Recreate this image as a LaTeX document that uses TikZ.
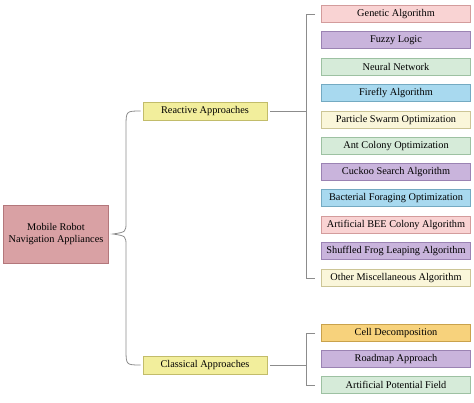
\documentclass[tikz,border=0pt]{standalone}
\usepackage{fontspec}
\setmainfont{Liberation Serif}
\usetikzlibrary{positioning}

\definecolor{rootfill}{HTML}{D9A1A4}
\definecolor{rootline}{HTML}{B3777B}
\definecolor{yelfill}{HTML}{F2EE9C}
\definecolor{yelline}{HTML}{C2BC6A}
\definecolor{pinkfill}{HTML}{F9D3D3}
\definecolor{pinkline}{HTML}{D39C9C}
\definecolor{purpfill}{HTML}{C9B4DC}
\definecolor{purpline}{HTML}{9B83B3}
\definecolor{grnfill}{HTML}{D6EBD9}
\definecolor{grnline}{HTML}{9DC1A2}
\definecolor{bluefill}{HTML}{A8D9EF}
\definecolor{blueline}{HTML}{74AAC2}
\definecolor{crmfill}{HTML}{FAF6DA}
\definecolor{crmline}{HTML}{CCC596}
\definecolor{orgfill}{HTML}{F7D27C}
\definecolor{orgline}{HTML}{C9A24C}
\definecolor{linkgray}{HTML}{8C8C8C}

\tikzset{
  box/.style={draw, line width=0.6pt, align=center, inner sep=0pt, font=\fontsize{10.3}{12}\selectfont},
  leaf/.style={box, minimum width=149pt, minimum height=17pt},
  approach/.style={box, fill=yelfill, draw=yelline, minimum width=124pt, minimum height=18pt},
  pinkbox/.style={fill=pinkfill, draw=pinkline},
  purpbox/.style={fill=purpfill, draw=purpline},
  grnbox/.style={fill=grnfill, draw=grnline},
  bluebox/.style={fill=bluefill, draw=blueline},
  crmbox/.style={fill=crmfill, draw=crmline},
  orgbox/.style={fill=orgfill, draw=orgline},
  link/.style={draw=linkgray, line width=0.8pt},
}

\begin{document}
\begin{tikzpicture}[x=1pt, y=-1pt]
        \useasboundingbox (0,0) rectangle (474,402);

        \node[box, fill=rootfill, draw=rootline, minimum width=105pt, minimum height=58pt] at (56, 234)(root){Mobile Robot\\Navigation Appliances};
        \node[approach] at (205, 111)(rea){Reactive Approaches};
        \node[approach] at (205, 365)(cla){Classical Approaches};

        \node[leaf, pinkbox] at (396, 14)(ga){Genetic Algorithm};
        \node[leaf, purpbox] at (396, 40)(fl){Fuzzy Logic};
        \node[leaf, grnbox] at (396, 67)(nn){Neural Network};
        \node[leaf, bluebox] at (396, 93)(ff){Firefly Algorithm};
        \node[leaf, crmbox] at (396, 120)(pso){Particle Swarm Optimization};
        \node[leaf, grnbox] at (396, 146)(aco){Ant Colony Optimization};
        \node[leaf, purpbox] at (396, 172)(csa){Cuckoo Search Algorithm};
        \node[leaf, bluebox] at (396, 198)(bfo){Bacterial Foraging Optimization};
        \node[leaf, pinkbox] at (396, 225)(abc){Artificial BEE Colony Algorithm};
        \node[leaf, purpbox] at (396, 251)(sfl){Shuffled Frog Leaping Algorithm};
        \node[leaf, crmbox] at (396, 278)(oma){Other Miscellaneous Algorithm};

        \node[leaf, orgbox] at (396, 333)(cd){Cell Decomposition};
        \node[leaf, purpbox] at (396, 359)(ra){Roadmap Approach};
        \node[leaf, grnbox] at (396, 385)(apf){Artificial Potential Field};

        % brace from the root to both approaches
        \coordinate (tip) at (113, 234);
        \draw[link] ([xshift=-2pt]rea.west) .. controls (126, 111) .. (126, 127)
            -- (126, 222) .. controls (126, 232) .. (tip)
            .. controls (126, 236) .. (126, 246)
            -- (126, 349) .. controls (126, 365) .. ([xshift=-2pt]cla.west);

        % reactive group
        \draw[link] ([xshift=3pt]rea.east) -- ([xshift=-15pt]rea.east -| ga.west);
        \draw[link] ([xshift=-6pt]ga.west) -- ([xshift=-15pt]ga.west) -- ([xshift=-15pt]oma.west) -- ([xshift=-6pt]oma.west);

        % classical group
        \draw[link] ([xshift=3pt]cla.east) -- ([xshift=-15pt]cla.east -| cd.west);
        \draw[link] ([xshift=-6pt]cd.west) -- ([xshift=-15pt]cd.west) -- ([xshift=-15pt]apf.west) -- ([xshift=-6pt]apf.west);
    \end{tikzpicture}
\end{document}
